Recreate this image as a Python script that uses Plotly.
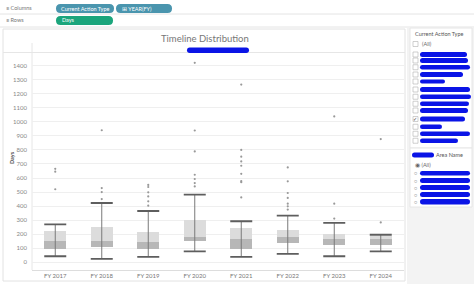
import plotly.graph_objects as go

W, H = 474, 284

years = ["FY 2017", "FY 2018", "FY 2019", "FY 2020", "FY 2021", "FY 2022", "FY 2023", "FY 2024"]
lower_whisker = [43, 24, 38, 78, 38, 60, 43, 78]
q1 = [100, 114, 100, 156, 100, 142, 124, 126]
median = [156, 156, 145, 182, 168, 180, 166, 168]
q3 = [227, 252, 218, 301, 244, 232, 204, 192]
upper_whisker = [270, 422, 365, 481, 292, 332, 280, 196]

outliers = {
    "FY 2017": [665, 645, 520],
    "FY 2018": [940, 528, 500, 450],
    "FY 2019": [551, 536, 498, 469, 434, 403],
    "FY 2020": [1420, 938, 789, 623, 593, 564, 540],
    "FY 2021": [1265, 800, 752, 718, 687, 630, 578, 570, 462],
    "FY 2022": [675, 576, 493, 458, 417, 398, 375],
    "FY 2023": [1038, 417, 311],
    "FY 2024": [877, 284],
}

y_ticks = list(range(0, 1500, 100))

fig = go.Figure()

# box: lower half (Q1 -> median), darker
fig.add_trace(go.Bar(
    x=years, y=[m - a for m, a in zip(median, q1)], base=q1,
    marker=dict(color="#b7b7b7", line=dict(width=0)), width=0.47,
    hoverinfo="skip", showlegend=False))
# box: upper half (median -> Q3), lighter
fig.add_trace(go.Bar(
    x=years, y=[b - m for b, m in zip(q3, median)], base=median,
    marker=dict(color="#dcdcdc", line=dict(width=0)), width=0.47,
    hoverinfo="skip", showlegend=False))
# whisker stems
fig.add_trace(go.Scatter(
    x=years, y=median, mode="markers", marker=dict(size=1, color="rgba(0,0,0,0)"),
    error_y=dict(type="data", symmetric=False,
                 array=[u - m for u, m in zip(upper_whisker, median)],
                 arrayminus=[m - l for m, l in zip(median, lower_whisker)],
                 color="#7a7a7a", thickness=1, width=0),
    hoverinfo="skip", showlegend=False))
# whisker caps
fig.add_trace(go.Scatter(
    x=years + years, y=upper_whisker + lower_whisker, mode="markers",
    marker=dict(size=1, color="rgba(0,0,0,0)"),
    error_y=dict(type="data", symmetric=True, array=[0] * 16,
                 color="#5e5e5e", thickness=1.8, width=11),
    hoverinfo="skip", showlegend=False))
# outliers
ox, oy = [], []
for yr in years:
    for v in outliers[yr]:
        ox.append(yr)
        oy.append(v)
fig.add_trace(go.Scatter(
    x=ox, y=oy, mode="markers",
    marker=dict(size=2.2, color="#999999"), showlegend=False))


def px(x):
    return x / W


def py(y):
    return 1 - y / H


shapes = []
annotations = []


def rect(x0, y0, x1, y1, fill=None, line=None, lw=1):
    shapes.append(dict(type="rect", xref="paper", yref="paper",
                       x0=px(x0), x1=px(x1), y0=py(y1), y1=py(y0),
                       fillcolor=fill or "rgba(0,0,0,0)",
                       line=dict(color=line or "rgba(0,0,0,0)", width=lw if line else 0),
                       layer="below"))


def hline(x0, x1, y, color, lw=1, layer="below"):
    shapes.append(dict(type="line", xref="paper", yref="paper",
                       x0=px(x0), x1=px(x1), y0=py(y), y1=py(y),
                       line=dict(color=color, width=lw), layer=layer))


def vline(x, y0, y1, color, lw=1, layer="below"):
    shapes.append(dict(type="line", xref="paper", yref="paper",
                       x0=px(x), x1=px(x), y0=py(y0), y1=py(y1),
                       line=dict(color=color, width=lw), layer=layer))


def pill(x0, y0, x1, y1, color):
    r = (y1 - y0) / 2
    p = (f"M {px(x0 + r)},{py(y0)} L {px(x1 - r)},{py(y0)} "
         f"Q {px(x1)},{py(y0)} {px(x1)},{py(y0 + r)} "
         f"Q {px(x1)},{py(y1)} {px(x1 - r)},{py(y1)} "
         f"L {px(x0 + r)},{py(y1)} "
         f"Q {px(x0)},{py(y1)} {px(x0)},{py(y0 + r)} "
         f"Q {px(x0)},{py(y0)} {px(x0 + r)},{py(y0)} Z")
    shapes.append(dict(type="path", xref="paper", yref="paper", path=p,
                       fillcolor=color, line=dict(width=0), layer="above"))


def scribble(x0, y0, x1, y1):
    pill(x0, y0, x1, y1, "#0a14e6")


def text(x, y, s, size=6, color="#666", anchor="left", **kw):
    annotations.append(dict(xref="paper", yref="paper", x=px(x), y=py(y), text=s,
                            showarrow=False, xanchor=anchor, yanchor="middle",
                            font=dict(size=size, color=color,
                                      family="Lato, 'Open Sans', sans-serif"), **kw))


# toolbar
rect(0, 0, W, 28, fill="#ffffff")
hline(0, W, 14, "#e4e4e4")
hline(0, W, 27, "#e4e4e4")
text(4, 8, "≡ Columns", size=5.5, color="#777")
text(4, 20.5, "≡ Rows", size=5.5, color="#777")
pill(56, 4, 114, 13, "#4a95ae")
pill(116, 4, 172, 13, "#4a95ae")
pill(56, 16, 113, 25, "#1ba57c")
text(85, 8.5, "Current Action Type", size=5.5, color="#ffffff", anchor="center")
text(120, 8.5, "⊞ YEAR(FY)", size=5.5, color="#ffffff")
text(60, 20.5, "Days", size=5.5, color="#ffffff")

# chart panel
rect(3, 29, 405, 281, fill="#ffffff", line="#e2e2e2")
hline(3, 405, 52.5, "#e6e6e6")
vline(32, 43, 270, "#e6e6e6")
text(205, 38, "Timeline Distribution", size=9.5, color="#777777", anchor="center")
scribble(187, 47.5, 249, 53)
text(12, 158, "<b>Days</b>", size=5.5, color="#555", anchor="center", textangle=-90)

# right filter panel
rect(407, 28, W, H, fill="#f3f3f3")
rect(410, 28, 472, 148, fill="#ffffff", line="#e6e6e6")
rect(410, 148, 472, 207, fill="#ffffff", line="#e6e6e6")
text(413, 34, "Current Action Type", size=5.5, color="#555")
rect(413, 41.5, 418, 46.5, fill="#ffffff", line="#b0b0b0", lw=0.6)
text(420, 44, "(All)", size=5.5, color="#666")
items = [(52, 57, 467), (58, 63, 468), (65, 69.5, 470), (72, 77, 463), (79.5, 83.5, 445),
         (87, 92, 470), (94.5, 99, 471), (101.5, 106, 469), (108, 113, 468),
         (116.5, 121.5, 465), (124.5, 129, 442), (131.5, 136, 470), (138.5, 143, 458)]
for (a, b, xe) in items:
    c = (a + b) / 2
    rect(413, c - 2.5, 418, c + 2.5, fill="#ffffff", line="#b0b0b0", lw=0.6)
    scribble(420, a, xe, b)
text(414.5, 119, "✓", size=5, color="#333", anchor="center")
scribble(412, 152.5, 434, 157.5)
text(434, 155, "Area Name", size=5.5, color="#555")
text(413, 165, "◉ (All)", size=5.5, color="#666")
for (a, b) in [(171, 175.5), (178, 183), (185, 190), (192, 197), (199, 204.5)]:
    text(415.5, (a + b) / 2, "○", size=5, color="#aaa", anchor="center")
    scribble(420, a, 470, b)

fig.update_layout(
    width=W, height=H, margin=dict(l=0, r=0, t=0, b=0),
    paper_bgcolor="#ffffff", plot_bgcolor="rgba(0,0,0,0)",
    barmode="overlay", bargap=0, showlegend=False,
    shapes=shapes, annotations=annotations,
    font=dict(family="Lato, 'Open Sans', sans-serif"),
    xaxis=dict(domain=[px(32), px(404)], type="category", categoryorder="array",
               categoryarray=years, range=[-0.5, 7.5],
               showline=True, linecolor="#dddddd", linewidth=1,
               showgrid=False, ticks="", tickfont=dict(size=6, color="#777"),
               anchor="y"),
    yaxis=dict(domain=[py(270), py(52.7)], range=[-55, 1492],
               tickvals=y_ticks, ticktext=[str(v) for v in y_ticks],
               showgrid=True, gridcolor="#efefef", gridwidth=1,
               zeroline=False, showline=False, ticks="",
               tickfont=dict(size=6, color="#888"), ticklabelstandoff=4),
)

fig.write_html("out.html")
